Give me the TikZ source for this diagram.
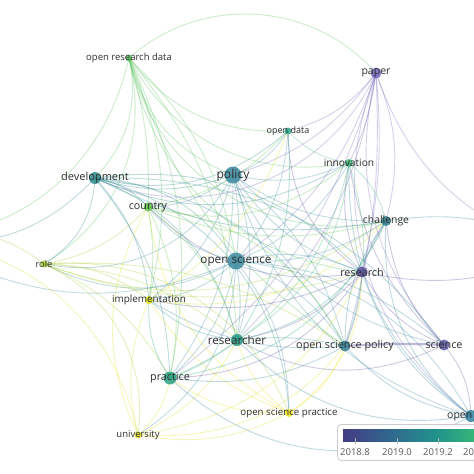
\documentclass[tikz,border=0pt]{standalone}
\usepackage{fontspec}
\setmainfont{Open Sans}
\definecolor{labc}{HTML}{2E2E2E}
\definecolor{cORD}{HTML}{55C15A}
\definecolor{cPap}{HTML}{7268BA}
\definecolor{cRes}{HTML}{5A4F9F}
\definecolor{cSci}{HTML}{5D57A5}
\definecolor{cOA}{HTML}{2F7FA0}
\definecolor{cCha}{HTML}{2C7D8F}
\definecolor{cPol}{HTML}{3A8A9E}
\definecolor{cOS}{HTML}{3D8AA0}
\definecolor{cDev}{HTML}{2B8A8C}
\definecolor{cOSP}{HTML}{35819A}
\definecolor{cRer}{HTML}{269A86}
\definecolor{cPra}{HTML}{28A37F}
\definecolor{cOD}{HTML}{2BA88A}
\definecolor{cInn}{HTML}{3FB97A}
\definecolor{cCou}{HTML}{62C44C}
\definecolor{cRol}{HTML}{A6CF2E}
\definecolor{cImp}{HTML}{DDE01D}
\definecolor{cOSPr}{HTML}{EEE41A}
\definecolor{cUni}{HTML}{E0DF20}
\definecolor{v0}{HTML}{443B84}
\definecolor{v1}{HTML}{31688E}
\definecolor{v2}{HTML}{21918C}
\definecolor{v3}{HTML}{35B779}
\tikzset{
  edge/.style={line width=0.9pt, draw opacity=0.3},
  lab/.style={text=labc, inner sep=0pt},
  dot/.style={circle, inner sep=0pt, fill opacity=0.85},
}
\begin{document}
\begin{tikzpicture}[x=1pt,y=-1pt]
\useasboundingbox (0,0) rectangle (474,474);
\clip (0,0) rectangle (474,474);
\fill[white] (0,0) rectangle (474,474);
% positions
\coordinate (ord) at (129,58);
\coordinate (paper) at (376,73);
\coordinate (odata) at (288,131);
\coordinate (innov) at (349,163);
\coordinate (dev) at (95,178);
\coordinate (policy) at (233,175);
\coordinate (country) at (148,207);
\coordinate (chall) at (386,221);
\coordinate (role) at (44,264);
\coordinate (os) at (236,261);
\coordinate (research) at (362,272);
\coordinate (impl) at (149,300);
\coordinate (rer) at (237,340);
\coordinate (osp) at (345,346);
\coordinate (sci) at (444,345);
\coordinate (prac) at (170,378);
\coordinate (ospr) at (289,413);
\coordinate (univ) at (138,435);
\coordinate (oa) at (471,416);
\coordinate (offL) at (-80,240);
\coordinate (offR) at (560,250);
% edges
\foreach \a/\b/\k/\c [evaluate=\k as \kk using \k*1.8] in {
 ord/dev/15/cORD, ord/policy/-15/cORD, ord/os/10/cORD, ord/rer/10/cORD, ord/prac/10/cORD,
 ord/odata/-15/cORD, ord/chall/-25/cORD, ord/research/-20/cORD, ord/country/5/cORD,
 ord/impl/10/cORD, ord/innov/-20/cORD, ord/paper/25/cORD, ord/role/20/cORD, ord/osp/-10/cORD,
 paper/odata/10/cPap, paper/innov/5/cPap, paper/chall/10/cPap, paper/research/5/cPap,
 paper/sci/-15/cPap, paper/policy/10/cPap, paper/os/10/cPap, paper/osp/5/cPap, paper/rer/10/cPap,
 paper/dev/25/cPap, paper/oa/-20/cPap, paper/prac/10/cPap, paper/offR/-15/cPap,
 dev/policy/-10/cDev, dev/country/10/cDev, dev/os/15/cDev, dev/prac/10/cDev, dev/role/15/cDev,
 dev/rer/15/cDev, dev/impl/10/cDev, dev/research/15/cDev, dev/chall/-10/cDev, dev/innov/-15/cDev,
 dev/odata/-15/cDev, dev/osp/15/cDev, dev/sci/15/cDev, dev/ospr/20/cDev, dev/offL/15/cDev,
 policy/os/5/cPol, policy/odata/-10/cPol, policy/innov/-10/cPol, policy/chall/-10/cPol,
 policy/research/-10/cPol, policy/rer/10/cPol, policy/prac/10/cPol, policy/osp/10/cPol,
 policy/country/10/cPol, policy/impl/10/cPol, policy/sci/-15/cPol, policy/oa/-15/cPol, policy/role/20/cPol,
 os/research/10/cOS, os/rer/5/cOS, os/osp/10/cOS, os/prac/10/cOS, os/impl/10/cOS, os/chall/-10/cOS,
 os/innov/-10/cOS, os/odata/-10/cOS, os/sci/10/cOS, os/oa/15/cOS, os/role/15/cOS, os/ospr/10/cOS,
 os/country/10/cOS, os/univ/15/cOS, os/offL/15/cOS,
 role/impl/10/cRol, role/prac/10/cRol, role/country/-10/cRol, role/rer/10/cRol, role/research/-10/cRol,
 role/osp/10/cRol, role/chall/-15/cRol, role/univ/20/cRol, role/ospr/20/cRol, role/offL/-15/cRol,
 univ/prac/-10/cUni, univ/ospr/-10/cUni, univ/impl/10/cUni, univ/rer/-10/cUni, univ/country/15/cUni,
 univ/research/-15/cUni, univ/osp/-15/cUni, univ/offL/-20/cUni,
 ospr/prac/10/cOSPr, ospr/rer/10/cOSPr, ospr/impl/10/cOSPr, ospr/country/15/cOSPr,
 ospr/research/-15/cOSPr, ospr/osp/-10/cOSPr,
 sci/research/10/cSci, sci/oa/10/cSci, sci/chall/10/cSci, sci/innov/10/cSci, sci/rer/15/cSci,
 oa/research/10/cOA, oa/osp/10/cOA, oa/rer/15/cOA, oa/chall/15/cOA, oa/innov/15/cOA, oa/prac/20/cOA,
 research/chall/5/cRes, research/innov/10/cRes, research/osp/5/cRes, research/rer/10/cRes,
 research/prac/15/cRes, research/odata/15/cRes, research/impl/10/cRes, research/country/15/cRes,
 research/offR/-10/cRes, chall/offR/10/cCha,
 country/impl/5/cCou, country/prac/10/cCou, country/rer/10/cCou, country/odata/-10/cCou,
 country/innov/-15/cCou, country/osp/15/cCou, country/chall/-10/cCou,
 innov/odata/10/cInn, innov/chall/10/cInn, innov/rer/15/cInn, innov/osp/10/cInn, innov/prac/15/cInn,
 rer/prac/5/cRer, rer/osp/5/cRer, rer/impl/10/cRer, rer/chall/-15/cRer, rer/odata/-10/cRer,
 osp/prac/10/cOSP, osp/chall/10/cOSP, osp/impl/10/cOSP,
 prac/impl/10/cPra, prac/chall/-15/cPra, impl/chall/-15/cImp, impl/odata/-10/cImp,
 ord/offL/20/cORD}
 \draw[edge,\c] (\a) to[bend left=\kk] (\b);
\draw[cSci, line width=2.2pt, draw opacity=0.4] (osp) to[bend left=3] (sci);
% nodes
\foreach \n/\c/\s in {ord/cORD/7, paper/cPap/11, odata/cOD/7, innov/cInn/8, dev/cDev/12,
  policy/cPol/17, country/cCou/9, chall/cCha/10, role/cRol/7, os/cOS/17, research/cRes/11,
  impl/cImp/8, rer/cRer/12, osp/cOSP/11, sci/cSci/11, prac/cPra/13, ospr/cOSPr/8, univ/cUni/7, oa/cOA/12}
  \node[dot, fill=\c, minimum size=\s pt] (\n dot) at (\n) {};
% labels
\node[lab, font=\fontsize{9.5}{10}\selectfont] (ordL) at (ord) {open research data};
\node[lab, font=\fontsize{10.5}{11}\selectfont] (paperL) at (paper) {paper};
\node[lab, font=\fontsize{9}{10}\selectfont] (odataL) at (odata) {open data};
\node[lab, font=\fontsize{10.2}{11}\selectfont] (innovL) at (innov) {innovation};
\node[lab, font=\fontsize{11}{11}\selectfont] (devL) at (dev) {development};
\node[lab, font=\fontsize{12.2}{12}\selectfont] (policyL) at (policy) {policy};
\node[lab, font=\fontsize{10.7}{11}\selectfont] (countryL) at (country) {country};
\node[lab, font=\fontsize{10.4}{11}\selectfont] (challL) at (chall) {challenge};
\node[lab, font=\fontsize{9.3}{10}\selectfont] (roleL) at (role) {role};
\node[lab, font=\fontsize{11.7}{12}\selectfont] (osL) at (os) {open science};
\node[lab, font=\fontsize{10.8}{11}\selectfont] (researchL) at (research) {research};
\node[lab, font=\fontsize{9.9}{10}\selectfont] (implL) at (impl) {implementation};
\node[lab, font=\fontsize{11.7}{12}\selectfont] (rerL) at (rer) {researcher};
\node[lab, font=\fontsize{10.8}{11}\selectfont] (ospL) at (osp) {open science policy};
\node[lab, font=\fontsize{10.8}{11}\selectfont] (sciL) at (sci) {science};
\node[lab, font=\fontsize{10.8}{11}\selectfont] (pracL) at (prac) {practice};
\node[lab, font=\fontsize{9.7}{10}\selectfont] (osprL) at (ospr) {open science practice};
\node[lab, font=\fontsize{9.5}{10}\selectfont] (univL) at (univ) {university};
\node[lab, font=\fontsize{10.5}{11}\selectfont, anchor=west] (oaL) at (447,417) {open};
% colour bar
\node[draw=black!20, fill=white, rounded corners=4pt, line width=0.8pt, minimum width=150pt,
  minimum height=36pt, anchor=north west, inner sep=0pt] (cbox) at (337,424) {};
\shade[left color=v0, right color=v1] (343,429) rectangle (390,441);
\shade[left color=v1, right color=v2] (390,429) rectangle (435,441);
\shade[left color=v2, right color=v3] (435,429) rectangle (475,441);
\foreach \x in {355,397,438}
  \draw[black!30, line width=0.6pt] (\x,438) -- (\x,444);
\node[text=black!65, font=\fontsize{9.5}{10}\selectfont, inner sep=0pt] (t1) at (355,452) {2018.8};
\node[text=black!65, font=\fontsize{9.5}{10}\selectfont, inner sep=0pt] (t2) at (397,452) {2019.0};
\node[text=black!65, font=\fontsize{9.5}{10}\selectfont, inner sep=0pt] (t3) at (438,452) {2019.2};
\node[text=black!65, font=\fontsize{9.5}{10}\selectfont, inner sep=0pt, anchor=west] (t4) at (463,452) {20};
\end{tikzpicture}
\end{document}
